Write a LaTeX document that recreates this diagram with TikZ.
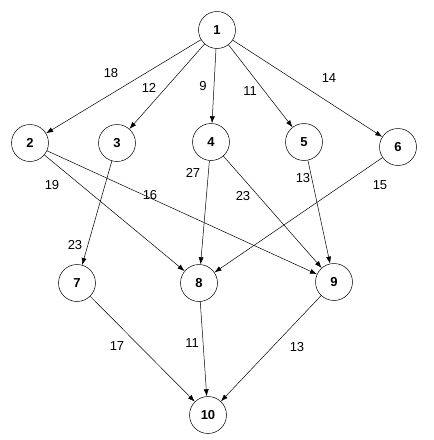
\documentclass[tikz,border=0pt]{standalone}
\usepackage{fontspec}
\setmainfont{Liberation Sans}
\usetikzlibrary{arrows.meta}
\begin{document}
\begin{tikzpicture}[x=1pt,y=-1pt,
  vtx/.style={circle,draw,line width=0.5pt,minimum size=37pt,inner sep=0pt,font=\bfseries\fontsize{13}{15}\selectfont},
  edge/.style={-{Latex[length=7pt,width=5pt]},line width=0.5pt},
  wt/.style={font=\fontsize{13}{15}\selectfont,inner sep=0pt}]
\useasboundingbox (0,0) rectangle (434,440);
\node[vtx] (n1) at (217,30) {1};
\node[vtx] (n2) at (30,143) {2};
\node[vtx] (n3) at (117,143) {3};
\node[vtx] (n4) at (211,142) {4};
\node[vtx] (n5) at (304,142) {5};
\node[vtx] (n6) at (398,147) {6};
\node[vtx] (n7) at (77,283) {7};
\node[vtx] (n8) at (199,283) {8};
\node[vtx] (n9) at (334,282) {9};
\node[vtx] (n10) at (208,415) {10};
\draw[edge] (n1) -- (n2);
\draw[edge] (n1) -- (n3);
\draw[edge] (n1) -- (n4);
\draw[edge] (n1) -- (n5);
\draw[edge] (n1) -- (n6);
\draw[edge] (n2) -- (n8);
\draw[edge] (n2) -- (n9);
\draw[edge] (n3) -- (n7);
\draw[edge] (n4) -- (n8);
\draw[edge] (n4) -- (n9);
\draw[edge] (n5) -- (n9);
\draw[edge] (n6) -- (n8);
\draw[edge] (n7) -- (n10);
\draw[edge] (n8) -- (n10);
\draw[edge] (n9) -- (n10);
\node[wt] (w12) at (111,73) {18};
\node[wt] (w13) at (149,88) {12};
\node[wt] (w14) at (203,86) {9};
\node[wt] (w15) at (250,91) {11};
\node[wt] (w16) at (329,78) {14};
\node[wt] (w28) at (52,185) {19};
\node[wt] (w29) at (150,195) {16};
\node[wt] (w48) at (193,173) {27};
\node[wt] (w49) at (243,196) {23};
\node[wt] (w59) at (303,178) {13};
\node[wt] (w68) at (380,185) {15};
\node[wt] (w37) at (75,245) {23};
\node[wt] (w710) at (117,346) {17};
\node[wt] (w810) at (192,343) {11};
\node[wt] (w910) at (297,347) {13};
\end{tikzpicture}
\end{document}
